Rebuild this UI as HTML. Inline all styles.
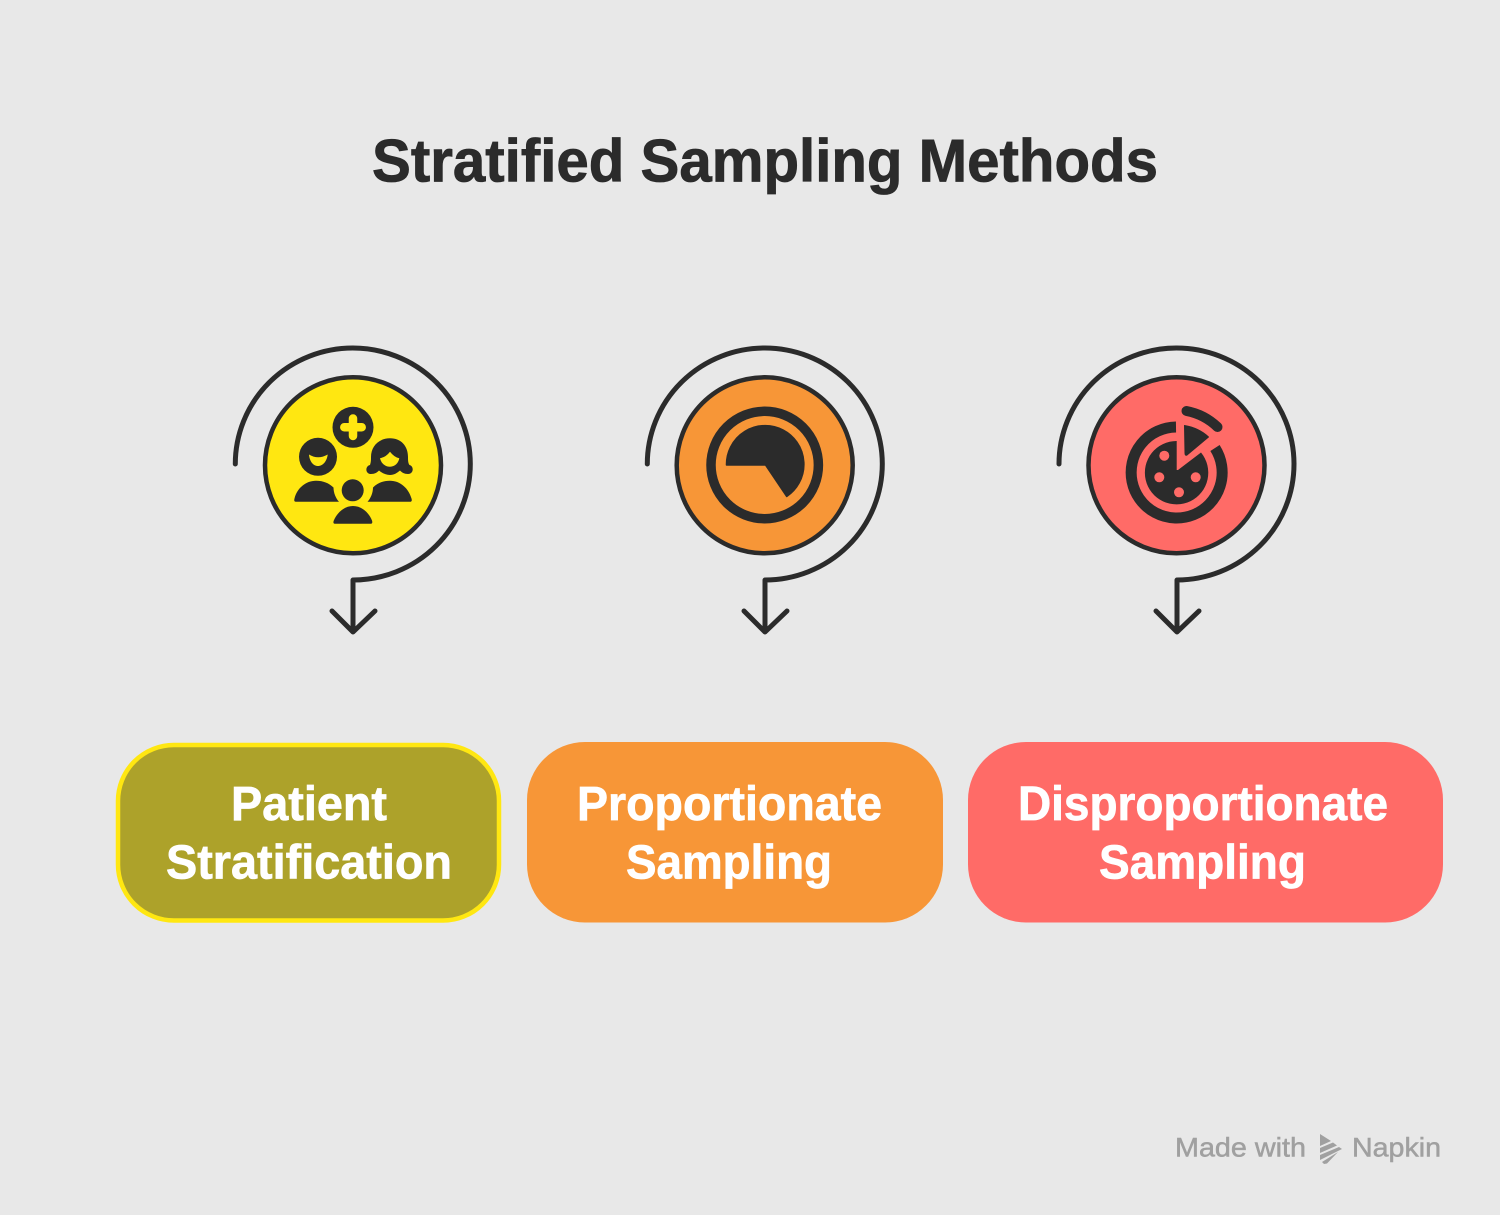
<!DOCTYPE html>
<html><head><meta charset="utf-8"><style>
html,body{margin:0;padding:0;background:#e8e8e8}
svg{display:block}
text{font-family:"Liberation Sans",sans-serif}
.b{font-weight:700;fill:#fff;font-size:48px;stroke:#fff;stroke-width:.7px}
.f{fill:#a0a0a0;font-size:27px;stroke:#a0a0a0;stroke-width:.5px}
</style></head><body>
<svg width="1500" height="1215" viewBox="0 0 1500 1215" xmlns="http://www.w3.org/2000/svg">
<rect width="1500" height="1215" fill="#e8e8e8"/>
<text x="372" y="181.500" font-size="60" font-weight="700" fill="#2b2b2b" stroke="#2b2b2b" stroke-width=".8" textLength="786" lengthAdjust="spacingAndGlyphs">Stratified Sampling Methods</text>

<g fill="none" stroke="#2b2b2b" stroke-width="5" stroke-linecap="round" stroke-linejoin="round">
<path d="M235.300 464 A117.500 116 0 1 1 353 580 L353 632 M332 611 L353 632 L375 611"/>
<path d="M647.300 464 A117.500 116 0 1 1 765 580 L765 632 M744 611 L765 632 L787 611"/>
<path d="M1059 464 A117.500 116 0 1 1 1177 580 L1177 632 M1156 611 L1177 632 L1199 611"/>
</g>
<circle cx="353" cy="465.300" r="88" fill="#ffe711" stroke="#2b2b2b" stroke-width="4.500"/>
<circle cx="764.700" cy="465.300" r="88" fill="#f79637" stroke="#2b2b2b" stroke-width="4.500"/>
<circle cx="1176.500" cy="465.300" r="88" fill="#ff6b67" stroke="#2b2b2b" stroke-width="4.500"/>

<!-- icon 1 -->
<g fill="#2b2b2b">
<circle cx="353" cy="427.300" r="20.500"/>
<path d="M353 418.500V436M344.300 427.300H361.700" stroke="#ffe711" stroke-width="8.500" stroke-linecap="round" fill="none"/>
<circle cx="318" cy="456.800" r="19"/>
<path d="M309 454.500Q318 460 327.700 454.500C327 461 323 466 318 466C313 466 309.500 461 309 454.500Z" fill="#ffe711"/>
<path d="M296 501.800Q293.500 501.800 294.500 498.500C297 488 306 480.700 316 480.700C323 480.700 329 483 333.500 487.500C333.500 493 336 498.500 339 501.800Z"/>
<circle cx="352.700" cy="490.300" r="11"/>
<path d="M335.500 523.800Q332.500 523.800 333.800 520.500C337 513 344 506 353 506C362 506 369 513 372 520.500Q373 523.800 370.500 523.800Z"/>
<path d="M367.500 501.800C370.500 498.500 373 493 373 487.500C377.500 483 383 480.700 390 480.700C400 480.700 408.500 488 411.500 498.500Q412.500 501.800 410 501.800Z"/>
<path d="M371 474C365 474 365 466 370 465C371 462 371 460 371 457C371 446 379 438.300 390 438.300C401 438.300 408 446 408 457C408 460 408 463 409.500 465C414 466 414 474 408 474C404 474 402 472.500 400 470.500C397 473 394 475 390 475C386 475 382 473 379 470.500C377 472.500 375 474 371 474Z"/>
<path d="M380 458.300Q386 457 390 451.700Q394 457 399.300 458.300C398.500 463 395 466.700 390 466.700C385 466.700 381 463 380 458.300Z" fill="#ffe711"/>
</g>

<!-- icon 2 -->
<circle cx="764.700" cy="465" r="53.700" fill="none" stroke="#2b2b2b" stroke-width="9.500"/>
<path d="M726.500 465 A38.700 38.700 0 1 1 786.700 496.500 L765.500 465 Z" fill="#2b2b2b" stroke="#2b2b2b" stroke-width="1.500" stroke-linejoin="round"/>

<!-- icon 3 -->
<g fill="#2b2b2b">
<path d="M1176 427 A45.500 45.500 0 1 0 1215 448" fill="none" stroke="#2b2b2b" stroke-width="11"/>
<path d="M1176.700 441 A31.700 31.700 0 1 0 1201 452.500 L1178 470 L1176.700 470 Z"/>
<path d="M1184.500 425.500Q1199 428 1208.500 437L1187 455Q1185 456 1185 453Z" stroke="#2b2b2b" stroke-width="1" stroke-linejoin="round"/>
<path d="M1186.500 411 A61.500 61.500 0 0 1 1217.500 427" fill="none" stroke="#2b2b2b" stroke-width="10" stroke-linecap="round"/>
<g fill="#ff6b67">
<circle cx="1164.300" cy="455.700" r="5"/>
<circle cx="1159.300" cy="477.300" r="5"/>
<circle cx="1179" cy="492.300" r="5"/>
<circle cx="1195.700" cy="477.300" r="5"/>
</g>
</g>

<!-- boxes -->
<rect x="118" y="745" width="381" height="175.500" rx="56" fill="#ada22a" stroke="#ffe711" stroke-width="4.500"/>
<rect x="527" y="742" width="416" height="180.500" rx="58" fill="#f79637"/>
<rect x="968" y="742" width="475" height="180.500" rx="58" fill="#ff6b67"/>

<text class="b" x="231" y="820" textLength="156" lengthAdjust="spacingAndGlyphs">Patient</text>
<text class="b" x="166" y="878.500" textLength="286" lengthAdjust="spacingAndGlyphs">Stratification</text>
<text class="b" x="577" y="820" textLength="305" lengthAdjust="spacingAndGlyphs">Proportionate</text>
<text class="b" x="626" y="878.500" textLength="206" lengthAdjust="spacingAndGlyphs">Sampling</text>
<text class="b" x="1018" y="820" textLength="370" lengthAdjust="spacingAndGlyphs">Disproportionate</text>
<text class="b" x="1099" y="878.500" textLength="207" lengthAdjust="spacingAndGlyphs">Sampling</text>

<!-- footer -->
<text class="f" x="1175" y="1156.500" textLength="131" lengthAdjust="spacingAndGlyphs">Made with</text>
<text class="f" x="1352" y="1156.500" textLength="89" lengthAdjust="spacingAndGlyphs">Napkin</text>
<g fill="#a0a0a0">
<path d="M1320 1134L1331 1141L1320 1146Z"/>
<path d="M1320 1148L1333 1142.500L1337 1145.500L1320 1153Z"/>
<path d="M1320 1155L1339 1147L1342 1149L1320 1160Z"/>
<path d="M1322 1162L1338 1152L1327 1163.500L1324 1164Z"/>
</g>
</svg>
</body></html>
